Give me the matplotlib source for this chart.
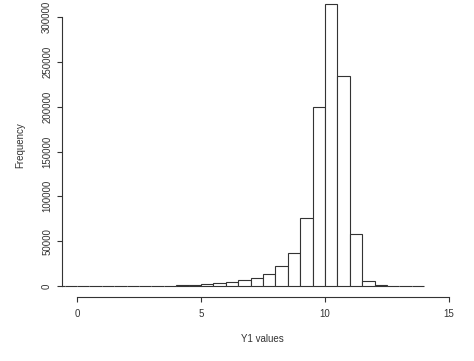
import numpy as np
import matplotlib
matplotlib.use("Agg")
import matplotlib.pyplot as plt

plt.rcParams['font.family'] = ['Liberation Sans', 'DejaVu Sans']

# Histogram bin edges (width 0.5) and counts
bin_edges = [-1.0, -0.5, 0.0, 0.5, 1.0, 1.5, 2.0, 2.5, 3.0, 3.5, 4.0, 4.5,
             5.0, 5.5, 6.0, 6.5, 7.0, 7.5, 8.0, 8.5, 9.0, 9.5, 10.0, 10.5,
             11.0, 11.5, 12.0, 12.5, 13.0, 13.5, 14.0]
counts = [0, 0, 0, 0, 0, 0, 0, 0,
          400, 500, 700, 1100, 2000, 3100, 4300, 6200, 8500, 13500,
          22500, 36500, 76000, 200000, 314000, 234500, 58500, 5800,
          900, 100, 0, 0]

x_ticks = [0, 5, 10, 15]
y_ticks = [0, 50000, 100000, 150000, 200000, 250000, 300000]
x_label = "Y1 values"
y_label = "Frequency"

W, H = 474, 361
fig = plt.figure(figsize=(W / 100, H / 100), dpi=100)

# plot region in pixels (R-style 4% extension)
left_px, right_px = 62.1, 463.9
bottom_px, top_px = 297.3, -6.8
ax = fig.add_axes([left_px / W, (H - bottom_px) / H,
                   (right_px - left_px) / W, (bottom_px - top_px) / H])

edges = np.array(bin_edges)
widths = np.diff(edges)
line_col = '#333333'
ax.bar(edges[:-1], counts, width=widths, align='edge', color='white',
       edgecolor=line_col, linewidth=0.8)

ymax = max(counts)
ax.set_xlim(-0.04 * 15, 15 + 0.04 * 15)
ax.set_ylim(-0.04 * ymax, 1.04 * ymax)

for s in ['top', 'right']:
    ax.spines[s].set_visible(False)
ax.spines['left'].set_bounds(0, 300000)
ax.spines['bottom'].set_bounds(0, 15)
for s in ['left', 'bottom']:
    ax.spines[s].set_color(line_col)
    ax.spines[s].set_linewidth(0.8)

ax.set_xticks(x_ticks)
ax.set_xticklabels([str(t) for t in x_ticks])
ax.set_yticks(y_ticks)
ax.set_yticklabels([str(t) for t in y_ticks], rotation=90, va='center')
ax.tick_params(axis='both', direction='out', length=3.6, width=0.8,
               color=line_col, labelsize=7, labelcolor='#333333')
ax.tick_params(axis='x', pad=5)
ax.tick_params(axis='y', pad=3.6)

fig.text(262.5 / W, (H - 342) / H, x_label, ha='center', va='baseline',
         fontsize=7, color='#333333')
fig.text(20 / W, (H - 145) / H, y_label, ha='center', va='center',
         rotation=90, fontsize=7, color='#333333')

fig.savefig("out.png", dpi=100)
